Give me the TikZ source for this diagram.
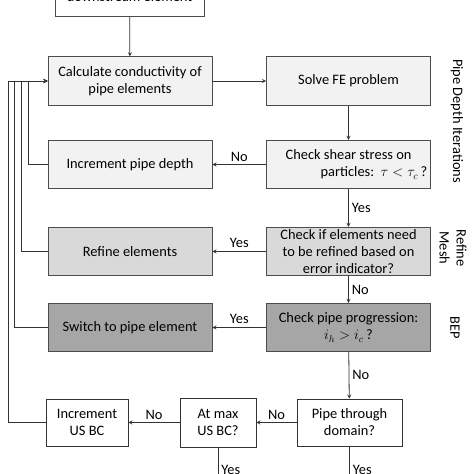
\documentclass[tikz,border=0pt]{standalone}
\usepackage{fontspec}
\setmainfont{Carlito}

\begin{document}
\begin{tikzpicture}[x=1pt,y=-1pt,>=stealth,
  box/.style={draw=black!70,line width=0.8pt,minimum width=164pt,minimum height=48.5pt,
    align=center,inner sep=2pt,font=\fontsize{14.4}{17}\selectfont},
  small/.style={box,draw=black!80,fill=white,minimum height=47pt},
  lbl/.style={font=\fontsize{14.4}{17}\selectfont,inner sep=3pt},
  side/.style={lbl,rotate=-90,align=center},
  flow/.style={draw=black!80,line width=0.8pt}]

\useasboundingbox (0,0) rectangle (474,474);
\clip (0,0) rectangle (474,474);

\coordinate (cInit)    at (129.5,17);
\coordinate (cCalc)    at (130,81);
\coordinate (cSolve)   at (348.5,81);
\coordinate (cDepth)   at (130,164.5);
\coordinate (cShear)   at (348.5,164.5);
\coordinate (cRefine)  at (130,251.5);
\coordinate (cChkRef)  at (348.5,251.5);
\coordinate (cSwitch)  at (130,327.5);
\coordinate (cChkPipe) at (348.5,327.5);
\coordinate (cIncBC)   at (87,422.5);
\coordinate (cMaxBC)   at (218,422.5);
\coordinate (cThrough) at (349.5,422.5);
\coordinate (endMax)     at (218,480);
\coordinate (endThrough) at (349.5,480);

\node[box,fill=white,minimum width=149pt,text height=30pt,text depth=5.5pt,inner ysep=10pt,anchor=south] (Init) at (cInit) {downstream element};
\node[box,fill=black!5]  (Calc)    at (cCalc)    {Calculate conductivity of\\pipe elements};
\node[box,fill=black!5]  (Solve)   at (cSolve)   {Solve FE problem};
\node[box,fill=black!5]  (Depth)   at (cDepth)   {Increment pipe depth};
\node[box,fill=black!5]  (Shear)   at (cShear)   {Check shear stress on\\\hspace*{51pt}particles:\ \ $\tau<\tau_c\,$?};
\node[box,fill=black!15] (Refine)  at (cRefine)  {Refine elements};
\node[box,fill=black!15] (ChkRef)  at (cChkRef)  {Check if elements need\\to be refined based on\\error indicator?};
\node[box,fill=black!35] (Switch)  at (cSwitch)  {Switch to pipe element};
\node[box,fill=black!35] (ChkPipe) at (cChkPipe) {Check pipe progression:\\$i_h>i_c\,$?};
\node[small,minimum width=82pt]  (IncBC)   at (cIncBC)   {Increment\\US BC};
\node[small,minimum width=76pt,minimum height=49pt] (MaxBC) at (cMaxBC) {At max\\US BC?};
\node[small,minimum width=105pt] (Through) at (cThrough) {Pipe through\\domain?};

\node[side] (PDI) at (457,121) {Pipe Depth Iterations};
\node[side] (RM)  at (453,248) {Refine\\Mesh};
\node[side] (BEP) at (455,328) {BEP};

\draw[flow,->] (Init) -- (Calc);
\draw[flow,->] (Calc) -- (Solve);
\draw[flow,->] (Solve) -- (Shear);
\draw[flow,->] (Shear) -- node[lbl,above] {No} (Depth);
\draw[flow,->] (Shear) -- node[lbl,right] {Yes} (ChkRef);
\draw[flow,->] (ChkRef) -- node[lbl,above] {Yes} (Refine);
\draw[flow,->] (ChkRef) -- node[lbl,right] {No} (ChkPipe);
\draw[flow,->] (ChkPipe) -- node[lbl,above] {Yes} (Switch);
\draw[flow,->] (ChkPipe) -- node[lbl,right] {No} (Through);
\draw[flow,->] (Through) -- node[lbl,above] {No} (MaxBC);
\draw[flow,->] (MaxBC) -- node[lbl,above] {No} (IncBC);
\draw[flow] (MaxBC) -- node[lbl,right,pos=0.7] {Yes} (endMax);
\draw[flow] (Through) -- node[lbl,right,pos=0.7] {Yes} (endThrough);

\draw[flow,->] (Depth.west) -| (28,81) -- (Calc.west);
\draw[flow,->] (Refine.west) -| (21,81) -- (Calc.west);
\draw[flow,->] (Switch.west) -| (14,81) -- (Calc.west);
\draw[flow,->] (IncBC.west) -| (8,81) -- (Calc.west);

\end{tikzpicture}
\end{document}
